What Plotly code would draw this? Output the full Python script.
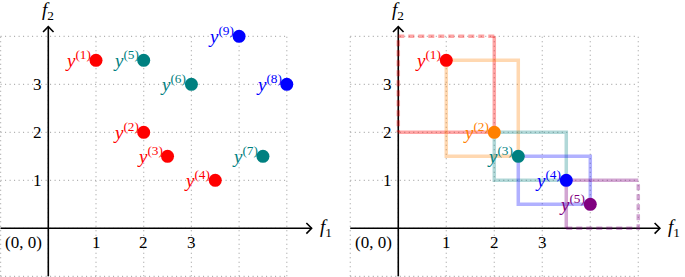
import plotly.graph_objects as go

# ---------------- data ----------------
# left panel: all objective vectors
left_x = [1, 2, 2.5, 3.5, 2, 3, 4.5, 5, 4]
left_y = [3.5, 2, 1.5, 1, 3.5, 3, 1.5, 3, 4]
left_labels = ["1", "2", "3", "4", "5", "6", "7", "8", "9"]
left_colors = ["#ff0000", "#ff0000", "#ff0000", "#ff0000",
               "#008080", "#008080", "#008080", "#0000ff", "#0000ff"]

# right panel: the non-dominated front
right_x = [1, 2, 2.5, 3.5, 4]
right_y = [3.5, 2, 1.5, 1, 0.5]
right_labels = ["1", "2", "3", "4", "5"]
right_colors = ["#ff0000", "#ff8000", "#008080", "#0000ff", "#800080"]

ref_point = (5, 4)
origin = (0, 0)

xticks = [1, 2, 3]
yticks = [1, 2, 3]
grid_x = [-1, 0, 1, 2, 3, 4, 5]
grid_y = [-1, 0, 1, 2, 3, 4]
x_tip = [5.52, 5.45]
y_tip = 4.2

FONT = "Liberation Serif, DejaVu Serif, Times New Roman, serif"
FS = 17
FS_LAB = 19

fig = go.Figure()
shapes = []
annotations = []

panels = [
    dict(xa="x", ya="y", px=left_x, py=left_y, lab=left_labels, col=left_colors,
         dom=[0, 340 / 685], rng=[-1.0126, -1.0126 + 340 / 47.7]),
    dict(xa="x2", ya="y2", px=right_x, py=right_y, lab=right_labels, col=right_colors,
         dom=[345 / 685, 1.0], rng=[-1.110, -1.110 + 340 / 48.0]),
]

yrange = [-(277 - 228.3) / 48.0, 228.3 / 48.0]

for k, p in enumerate(panels):
    xr, yr = p["xa"], p["ya"]
    # grid
    for gx in grid_x:
        shapes.append(dict(type="line", xref=xr, yref=yr, x0=gx, x1=gx,
                           y0=grid_y[0], y1=grid_y[-1], layer="below",
                           line=dict(color="#aaaaaa", width=1.2, dash="1px,3.5px")))
    for gy in grid_y:
        shapes.append(dict(type="line", xref=xr, yref=yr, y0=gy, y1=gy,
                           x0=grid_x[0], x1=grid_x[-1], layer="below",
                           line=dict(color="#aaaaaa", width=1.2, dash="1px,3.5px")))
    # axes
    xt = x_tip[k]
    shapes.append(dict(type="line", xref=xr, yref=yr, x0=grid_x[0], x1=xt, y0=0, y1=0,
                       layer="below", line=dict(color="black", width=1.6)))
    shapes.append(dict(type="line", xref=xr, yref=yr, y0=grid_y[0], y1=y_tip, x0=0, x1=0,
                       layer="below", line=dict(color="black", width=1.6)))
    h = 0.11
    shapes.append(dict(type="path", xref=xr, yref=yr, layer="below",
                       path=f"M{xt-h},{h} L{xt},0 L{xt-h},{-h}",
                       line=dict(color="black", width=1.6)))
    shapes.append(dict(type="path", xref=xr, yref=yr, layer="below",
                       path=f"M{-h},{y_tip-h} L0,{y_tip} L{h},{y_tip-h}",
                       line=dict(color="black", width=1.6)))
    # tick labels
    for t in xticks:
        annotations.append(dict(xref=xr, yref=yr, x=t, y=0, text=str(t), showarrow=False,
                                xanchor="center", yanchor="top", yshift=-3,
                                font=dict(family=FONT, size=FS, color="black")))
    for t in yticks:
        annotations.append(dict(xref=xr, yref=yr, x=0, y=t, text=str(t), showarrow=False,
                                xanchor="right", yanchor="middle", xshift=-4,
                                font=dict(family=FONT, size=FS, color="black")))
    annotations.append(dict(xref=xr, yref=yr, x=0, y=0, text="(0, 0)", showarrow=False,
                            xanchor="right", yanchor="top", xshift=-4, yshift=-3,
                            font=dict(family=FONT, size=FS, color="black")))
    annotations.append(dict(xref=xr, yref=yr, x=xt, y=0, text="<i>f</i><sub>1</sub>",
                            showarrow=False, xanchor="left", yanchor="middle", xshift=6,
                            font=dict(family=FONT, size=FS_LAB, color="black")))
    annotations.append(dict(xref=xr, yref=yr, x=0, y=y_tip, text="<i>f</i><sub>2</sub>",
                            showarrow=False, xanchor="center", yanchor="bottom", yshift=2,
                            font=dict(family=FONT, size=FS_LAB, color="black")))

# hypervolume boxes of the right panel
n = len(right_x)
for i in range(n):
    x0 = right_x[i - 1] if i > 0 else origin[0]
    x1 = right_x[i + 1] if i < n - 1 else ref_point[0]
    y0 = right_y[i + 1] if i < n - 1 else origin[1]
    y1 = right_y[i - 1] if i > 0 else ref_point[1]
    edges = [
        ((x0, y0), (x1, y0), y0 == origin[1]),
        ((x1, y0), (x1, y1), x1 == ref_point[0]),
        ((x1, y1), (x0, y1), y1 == ref_point[1]),
        ((x0, y1), (x0, y0), x0 == origin[0]),
    ]
    start = None
    for e in range(4):
        if edges[e][2] != edges[e - 1][2]:
            start = e
            break
    if start is None:
        path = f"M{x0},{y0} L{x1},{y0} L{x1},{y1} L{x0},{y1} Z"
        shapes.append(dict(type="path", xref="x2", yref="y2", layer="below", path=path,
                           opacity=0.3, line=dict(color=right_colors[i], width=3.5)))
        continue
    order = edges[start:] + edges[:start]
    groups = []
    for e in order:
        if groups and groups[-1][0] == e[2]:
            groups[-1][1].append(e)
        else:
            groups.append([e[2], [e]])
    for dashed, es in groups:
        pts = [es[0][0]] + [e[1] for e in es]
        path = "M" + " L".join(f"{a},{b}" for a, b in pts)
        shapes.append(dict(type="path", xref="x2", yref="y2", layer="below", path=path,
                           opacity=0.35,
                           line=dict(color=right_colors[i], width=3.5,
                                     dash="6px,4px" if dashed else "solid")))

# points and labels
for p in panels:
    fig.add_trace(go.Scatter(x=p["px"], y=p["py"], mode="markers", xaxis=p["xa"], yaxis=p["ya"],
                             marker=dict(size=13, color=p["col"], line=dict(width=0)),
                             showlegend=False, hoverinfo="skip"))
    for xv, yv, lb, c in zip(p["px"], p["py"], p["lab"], p["col"]):
        annotations.append(dict(xref=p["xa"], yref=p["ya"], x=xv, y=yv,
                                text=f"<i>y</i><sup>({lb})</sup>", showarrow=False,
                                xanchor="right", yanchor="middle", xshift=-3, yshift=1,
                                font=dict(family=FONT, size=FS_LAB, color=c)))

fig.update_layout(
    width=685, height=277,
    margin=dict(l=0, r=0, t=0, b=0),
    paper_bgcolor="white", plot_bgcolor="white",
    font=dict(family=FONT, size=FS),
    xaxis=dict(domain=panels[0]["dom"], range=panels[0]["rng"], visible=False),
    yaxis=dict(range=yrange, visible=False),
    xaxis2=dict(domain=panels[1]["dom"], range=panels[1]["rng"], visible=False),
    yaxis2=dict(range=yrange, visible=False, anchor="x2"),
    shapes=shapes, annotations=annotations,
)

fig.write_html("out.html", config={"displayModeBar": False},
               post_script="document.body.style.margin='0px';document.body.style.padding='0px';")
